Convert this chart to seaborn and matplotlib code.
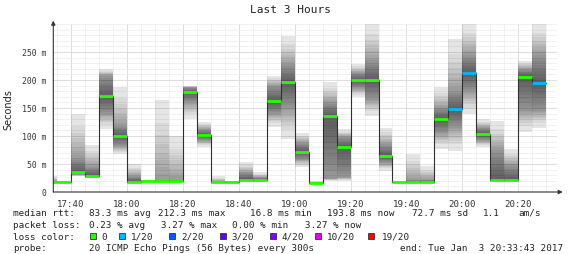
import matplotlib
matplotlib.use("Agg")
import matplotlib.pyplot as plt
import numpy as np
import pandas as pd
import seaborn as sns

# ---------------- data (milliseconds) ----------------
times = ["17:30", "17:35", "17:40", "17:45", "17:50", "17:55", "18:00", "18:05", "18:10",
         "18:15", "18:20", "18:25", "18:30", "18:35", "18:40", "18:45", "18:50", "18:55",
         "19:00", "19:05", "19:10", "19:15", "19:20", "19:25", "19:30", "19:35", "19:40",
         "19:45", "19:50", "19:55", "20:00", "20:05", "20:10", "20:15", "20:20", "20:25"]
rtt_lo = [15, 16, 28, 25, 112, 68, 17, 17, 17, 18, 130, 80, 16, 16, 18, 18, 116, 95,
          45, 16, 20, 20, 169, 136, 38, 16, 16, 16, 77, 74, 139, 80, 18, 18, 107, 115]
rtt_q1 = [16, 17, 31, 27, 140, 82, 18, 18, 18, 19, 160, 92, 17, 17, 20, 20, 140, 150,
          58, 17, 24, 26, 185, 165, 52, 17, 17, 17, 105, 115, 180, 92, 20, 20, 145, 145]
rtt_median = [17, 17.5, 35, 28, 171, 100.6, 18.5, 19, 19.5, 20, 178, 102, 17.5, 17.5, 22, 21,
              162, 196, 71, 16.8, 135, 80, 200, 200, 65, 17.5, 17.5, 18, 131, 148, 212.3, 103.6,
              22, 21, 206, 193.8]
rtt_q3 = [19, 18, 60, 45, 208, 118, 28, 20, 21, 22, 187, 112, 19, 18, 35, 26, 190, 228,
          88, 18, 160, 98, 213, 235, 85, 18, 22, 22, 150, 180, 245, 115, 75, 48, 220, 245]
rtt_hi = [29, 20, 140, 84, 220, 187, 50, 22, 165, 100, 190, 125, 28, 20, 53, 35, 208, 278,
          105, 19, 196, 112, 229, 300, 115, 19, 68, 47, 187, 273, 300, 130, 127, 77, 234, 300]
loss_count = [0, 0, 0, 0, 0, 0, 0, 0, 0, 0, 0, 0, 0, 0, 0, 0, 0, 0,
              0, 0, 0, 0, 0, 0, 0, 0, 0, 0, 0, 1, 1, 0, 0, 0, 0, 1]

tick_labels = ["17:40", "18:00", "18:20", "18:40", "19:00", "19:20", "19:40", "20:00", "20:20"]
y_tick_values = [0, 50, 100, 150, 200, 250]
y_tick_labels = ["0", "50 m", "100 m", "150 m", "200 m", "250 m"]

loss_legend = ["0", "1/20", "2/20", "3/20", "4/20", "10/20", "19/20"]
loss_colors = ["#26ff00", "#00b8ff", "#0059ff", "#5e00ff", "#7e00ff", "#dd00ff", "#ff0000"]

title = "Last 3 Hours"
view_start = "17:33:43"
step_minutes = 5

# ---------------- helpers ----------------
def to_min(s):
    parts = [int(p) for p in s.split(":")]
    m = (parts[0] - 17) * 60 + parts[1]
    if len(parts) > 2:
        m += parts[2] / 60
    return m

df = pd.DataFrame({
    "start": [to_min(t) for t in times],
    "lo": rtt_lo, "q1": rtt_q1, "med": rtt_median, "q3": rtt_q3, "hi": rtt_hi,
    "loss": loss_count,
})
xs0 = to_min(view_start)
xs1 = xs0 + 180

sns.set_style("white")
plt.rcParams["font.family"] = ["DejaVu Sans Mono", "DejaVu Sans"]

W, H = 571, 255
fig = plt.figure(figsize=(W / 100, H / 100), dpi=100)
fig.patch.set_facecolor("white")
px0, px1 = 53.3, 556.7
py0, py1 = 193, 25
ax = fig.add_axes([px0 / W, 1 - py0 / H, (px1 - px0) / W, (py0 - py1) / H])
ax.set_facecolor("white")
ax.set_xlim(xs0, xs1)
ax.set_ylim(0, 300)

# grid
ax.set_xticks([to_min(t) for t in tick_labels])
ax.set_xticklabels(tick_labels)
ax.set_xticks(np.arange(35, 215, 5), minor=True)
ax.set_yticks(y_tick_values)
ax.set_yticklabels(y_tick_labels)
ax.set_yticks(np.arange(0, 301, 10), minor=True)
ax.grid(which="minor", color="#ebebeb", lw=0.5)
ax.grid(which="major", color="#d8d8d8", lw=0.6)
ax.set_axisbelow(True)
for sp in ax.spines.values():
    sp.set_visible(False)
ax.tick_params(which="major", length=2, width=0.6, color="#555555",
               labelcolor="#333333", pad=3)
ax.tick_params(axis="x", labelsize=6.6)
ax.tick_params(axis="y", labelsize=5.9)
ax.tick_params(which="minor", length=0)

# smoke: light base band + nested translucent layers darkening toward the median
ax.bar(df["start"], df["hi"] - df["lo"], bottom=df["lo"], width=step_minutes, align="edge",
       color="black", alpha=0.10, lw=0)
a = 0.052
N = 16
for k in range(1, N):
    t = k / N
    if t < 0.5:
        s = (t / 0.5) ** 0.6
        lower = df["lo"] + (df["q1"] - df["lo"]) * s
        upper = df["hi"] - (df["hi"] - df["q3"]) * s
    else:
        s = ((t - 0.5) / 0.5) * 0.92
        lower = df["q1"] + (df["med"] - df["q1"]) * s
        upper = df["q3"] - (df["q3"] - df["med"]) * s
    ax.bar(df["start"], upper - lower, bottom=lower, width=step_minutes, align="edge",
           color="black", alpha=a, lw=0)

# median step line
line_x = list(df["start"]) + [df["start"].iloc[-1] + step_minutes]
line_y = list(df["med"]) + [df["med"].iloc[-1]]
sns.lineplot(x=line_x, y=line_y, ax=ax, drawstyle="steps-post", color="#303030",
             lw=0.8, estimator=None, sort=False)

# loss-colored median markers
seg_colors = [loss_colors[l] for l in df["loss"]]
ax.hlines(df["med"], df["start"], df["start"] + step_minutes, colors=seg_colors, lw=2.0)

# axis arrows
ax.annotate("", xy=(1.012, 0), xytext=(0, 0), xycoords="axes fraction",
            arrowprops=dict(arrowstyle="-|>", color="#333333", lw=0.8, mutation_scale=6,
                            shrinkA=0, shrinkB=0), annotation_clip=False)
ax.annotate("", xy=(0, 1.02), xytext=(0, 0), xycoords="axes fraction",
            arrowprops=dict(arrowstyle="-|>", color="#333333", lw=0.8, mutation_scale=6,
                            shrinkA=0, shrinkB=0), annotation_clip=False)

# title & y-label
fig.text(290 / W, 1 - 10 / H, title, ha="center", va="center", fontsize=8, color="#222222")
fig.text(8 / W, 1 - 110 / H, "Seconds", rotation=90, ha="center", va="center",
         fontsize=7, color="#222222", family=["DejaVu Sans"])

# legend text
fs = 6.7
tc = "#222222"
def put(x, y, s, **kw):
    fig.text(x / W, 1 - y / H, s, ha="left", va="center", fontsize=fs, color=tc, **kw)

y1, y2, y3, y4 = 213.3, 225.7, 237.3, 248.3
put(12.7, y1, "median rtt:")
for s, x in [("83.3 ms avg", 89.3), ("212.3 ms max", 157.7), ("16.8 ms min", 250),
             ("193.8 ms now", 327.3), ("72.7 ms sd", 411.7), ("1.1", 483.3), ("am/s", 518.3)]:
    put(x, y1, s)
put(12.7, y2, "packet loss:")
for s, x in [("0.23 % avg", 89.3), ("3.27 % max", 161), ("0.00 % min", 231.7),
             ("3.27 % now", 305)]:
    put(x, y2, s)
put(12.7, y3, "loss color:")
sq_x = [90, 119.3, 169.3, 220, 270, 315, 368.3]
lb_x = [101.7, 131, 181.7, 231.7, 281.7, 326.7, 381.7]
for lab, col, sx, lx in zip(loss_legend, loss_colors, sq_x, lb_x):
    fig.patches.append(plt.Rectangle((sx / W, 1 - (y3 + 3) / H), 6 / W, 6 / H,
                                     transform=fig.transFigure, facecolor=col,
                                     edgecolor="#333333", lw=0.6))
    put(lx, y3, lab)
put(12.7, y4, "probe:")
put(89.3, y4, "20 ICMP Echo Pings (56 Bytes) every 300s")
put(400, y4, "end: Tue Jan  3 20:33:43 2017")

fig.savefig("out.png", dpi=100, facecolor="white")
